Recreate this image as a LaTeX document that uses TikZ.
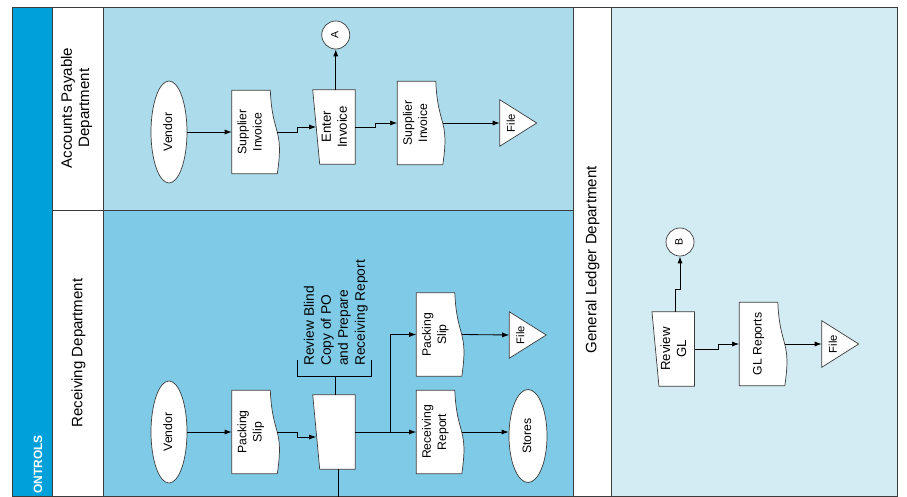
\documentclass[tikz,border=0pt]{standalone}
\usepackage{fontspec}
\setmainfont{Liberation Sans}
\usepackage{graphicx}
\usetikzlibrary{arrows.meta,calc,shapes.geometric}
\pgfdeclarelayer{lanes}
\pgfdeclarelayer{outlines}
\pgfsetlayers{lanes,outlines,main}

\definecolor{barblue}{RGB}{0,161,218}
\definecolor{aplane}{RGB}{172,220,236}
\definecolor{rclane}{RGB}{127,203,231}
\definecolor{gllane}{RGB}{211,236,244}
\definecolor{rulegrey}{RGB}{60,60,60}

\newcommand{\vtext}[1]{\rotatebox{90}{\begin{tabular}{@{}c@{}}#1\end{tabular}}}
\newcommand{\vnote}[1]{\rotatebox{90}{\begin{tabular}{@{}l@{}}#1\end{tabular}}}

\begin{document}
\begin{tikzpicture}[
    x=0.025cm, y=-0.025cm,
    lanerule/.style={draw=rulegrey, line width=0.6pt},
    shapeline/.style={draw=rulegrey, line width=0.5pt, fill=white},
    ellip/.style={ellipse, shapeline, inner sep=0pt, minimum width=0.9cm, minimum height=2.55cm, font=\fontsize{8.7}{10.7}\selectfont},
    docu/.style={inner sep=0pt, minimum width=0.95cm, minimum height=2.075cm, font=\fontsize{8.7}{10.7}\selectfont},
    manual/.style={inner sep=0pt, minimum width=0.9625cm, minimum height=1.85cm, font=\fontsize{9.4}{11.4}\selectfont},
    filetri/.style={inner sep=0pt, minimum width=0.6cm, minimum height=1.15cm, font=\fontsize{8}{10}\selectfont},
    onpage/.style={circle, shapeline, inner sep=0pt, minimum size=0.7cm, font=\fontsize{7.5}{9}\selectfont},
    lanetitle/.style={font=\fontsize{10.7}{12.2}\selectfont},
    conn/.style={line width=0.6pt},
    arr/.style={conn, -{Latex[length=5pt,width=3.6pt]}}
]
    \useasboundingbox (0,0) rectangle (907,497);

    % Lanes
    \begin{pgfonlayer}{lanes}
        \fill[barblue] (12,7) rectangle (52,497);
        \fill[white] (52,7) rectangle (103,497);
        \fill[aplane] (103,7) rectangle (573,210);
        \fill[rclane] (103,210) rectangle (573,497);
        \fill[white] (573,7) rectangle (611,497);
        \fill[gllane] (611,7) rectangle (897,497);
        \draw[lanerule] (12,7) -- (897,7) -- (897,496) -- (12,496) -- cycle;
        \foreach \xl in {52,103,573,611}
            \draw[lanerule] (\xl,7) -- (\xl,496);
        \draw[lanerule] (52,210) -- (573,210);
    \end{pgfonlayer}

    % Lane titles
    \node[font=\fontsize{8.5}{10}\selectfont\bfseries, text=white, inner sep=0pt, anchor=south] (ctrl) at (38,494) {\rotatebox{90}{ONTROLS}};
    \node[lanetitle, inner sep=0pt] (titleAP) at (77,108) {\vtext{Accounts Payable\\Department}};
    \node[lanetitle, inner sep=0pt] (titleRC) at (79,353) {\vtext{Receiving Department}};
    \node[lanetitle, inner sep=0pt] (titleGL) at (593,260) {\vtext{General Ledger Department}};

    % Accounts payable
    \node[ellip] (vendA) at (169,132) {\vtext{Vendor}};
    \node[docu] (invA) at (251,132) {\vtext{Supplier\\Invoice}};
    \node[manual] (enterinv) at (335.75,127) {\vtext{Enter\\Invoice}};
    \node[docu] (invB) at (416.5,123) {\vtext{Supplier\\Invoice}};
    \node[filetri] (fileA) at (512,123) {\vtext{File}};
    \node[onpage] (circA) at (335.75,35) {\vtext{A}};

    % Receiving
    \node[ellip] (vendR) at (169,432) {\vtext{Vendor}};
    \node[docu] (slipR) at (251,432) {\vtext{Packing\\Slip}};
    \node[manual] (review) at (335.75,432) {};
    \node[font=\fontsize{9.8}{12.1}\selectfont, inner sep=0pt, anchor=south] (note) at (336,366) {\vnote{Review Blind\\Copy of PO\\and Prepare\\Receiving Report}};
    \coordinate (brk) at (334,376);
    \coordinate (split) at (390,432);
    \coordinate (offpage) at (338,497);
    \node[docu] (slipS) at (435.5,334.5) {\vtext{Packing\\Slip}};
    \node[docu] (recrep) at (435.5,432) {\vtext{Receiving\\Report}};
    \node[filetri] (fileR) at (521.5,335) {\vtext{File}};
    \node[ellip, minimum width=0.95cm, minimum height=2.325cm] (stores) at (528,436) {\vtext{Stores}};

    % General ledger
    \node[manual] (revgl) at (675,349) {\vtext{Review\\GL}};
    \node[onpage] (circB) at (680,242) {\vtext{B}};
    \node[docu] (glrep) at (758.5,344) {\vtext{GL Reports}};
    \node[filetri] (fileGL) at (834,344) {\vtext{File}};

    % Outlines
    \begin{pgfonlayer}{outlines}
        \foreach \n in {invA,invB,slipR,slipS,recrep,glrep}
            \draw[shapeline] (\n.north west) -- (\n.north east)
                .. controls ($(\n.north east)+(2,46)$) and ($(\n.north east)+(14,37)$) .. ($(\n.south east)+(7,0)$)
                -- (\n.south west) -- cycle;
        \foreach \n in {enterinv,review,revgl}
            \draw[shapeline] ($(\n.north west)+(-3.5,0)$) -- (\n.north east) -- (\n.south east) -- ($(\n.south west)+(3.5,0)$) -- cycle;
        \foreach \n in {fileA,fileR,fileGL}
            \draw[shapeline] (\n.north west) -- ($(\n.west)+(37,0)$) -- (\n.south west) -- cycle;
    \end{pgfonlayer}

    % Arrows
    \draw[arr] (vendA) -- (invA);
    \draw[arr] ([xshift=0.175cm]invA.east) -- ++(20,0) |- (enterinv.west);
    \draw[arr] (enterinv.east) -- ++(20,0) |- (invB.west);
    \draw[arr] ([xshift=0.175cm]invB.east) -- (fileA.west);
    \draw[arr] (enterinv.north) -- (circA.south);

    \draw[arr] (vendR) -- (slipR);
    \draw[arr] ([xshift=0.175cm]slipR.east) -- ++(20,0) |- ([yshift=-0.125cm]review.west);
    \draw[conn] (review.north) -- (review.north |- brk);
    \draw[conn] (brk) +(-37,-16) -- +(-37,0) -- +(37,0) -- +(37,-16);
    \draw[conn] (review.east) -- (split);
    \draw[arr] (split) -- (recrep.west);
    \draw[arr] (split) |- (slipS.west);
    \draw[arr] ([xshift=0.175cm]slipS.east) -- (fileR.west);
    \draw[arr] ([xshift=0.175cm]recrep.east) -- (recrep.east -| stores.west);
    \draw[conn] (review.south -| offpage) -- (offpage);

    \draw[arr] (revgl.north) -- ++(0,-22) -| (circB.south);
    \draw[arr] (revgl.east) -- ++(24,0) |- (glrep.west);
    \draw[arr] ([xshift=0.175cm]glrep.east) -- (fileGL.west);
\end{tikzpicture}
\end{document}
